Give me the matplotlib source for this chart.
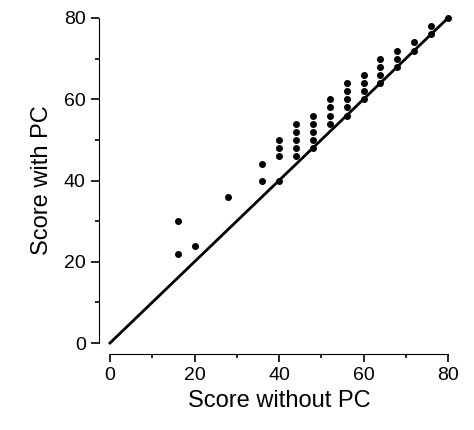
import matplotlib
matplotlib.use("Agg")
import matplotlib.pyplot as plt
from matplotlib.ticker import MultipleLocator
plt.rcParams['font.family'] = ['Liberation Sans', 'DejaVu Sans']

xs = [16,16,20,28,36,36,40,40,40,40,44,44,44,44,44,48,48,48,48,48,52,52,52,52,
      56,56,56,56,56,60,60,60,60,64,64,64,64,68,68,68,72,72,76,76,80]
ys = [22,30,24,36,40,44,40,46,48,50,46,48,50,52,54,48,50,52,54,56,54,56,58,60,
      56,58,60,62,64,60,62,64,66,64,66,68,70,68,70,72,72,74,76,78,80]
line_x = [0, 80]
line_y = [0, 80]

fig = plt.figure(figsize=(4.74, 4.30), dpi=100)
ax = fig.add_axes([110/474, 1-343/430, 338/474, 325/430])
ax.plot(line_x, line_y, color='black', lw=2, clip_on=False)
ax.scatter(xs, ys, s=16, color='black', clip_on=False, zorder=3)
ax.set_xlim(0, 80); ax.set_ylim(0, 80)
for s in ['top', 'right']:
    ax.spines[s].set_visible(False)
ax.spines['left'].set_position(('outward', 8))
ax.spines['bottom'].set_position(('outward', 8))
ax.xaxis.set_major_locator(MultipleLocator(20))
ax.yaxis.set_major_locator(MultipleLocator(20))
ax.xaxis.set_minor_locator(MultipleLocator(10))
ax.yaxis.set_minor_locator(MultipleLocator(10))
ax.tick_params(which='major', length=6, width=1.2, labelsize=14)
ax.tick_params(which='minor', length=3, width=1.2)
ax.set_xlabel('Score without PC', fontsize=17)
ax.set_ylabel('Score with PC', fontsize=17, labelpad=8)
fig.savefig('out.png', dpi=100)
